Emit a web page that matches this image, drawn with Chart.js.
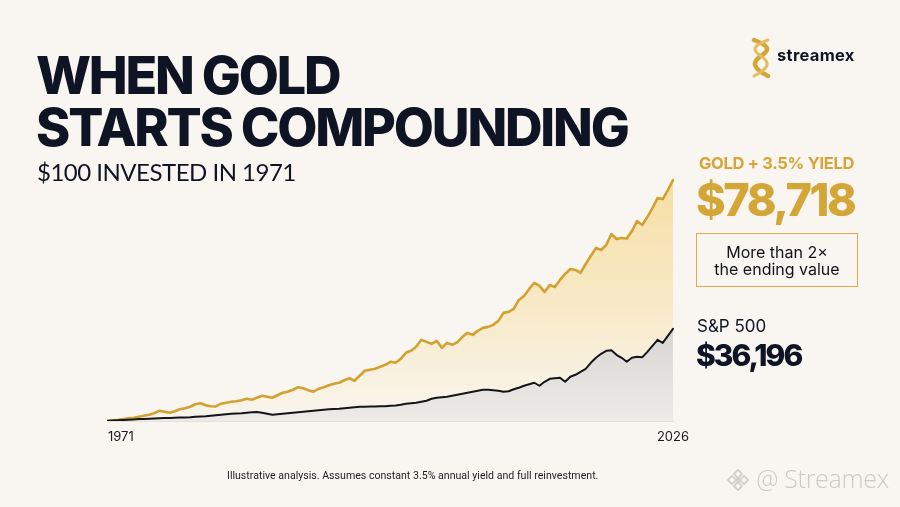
<!DOCTYPE html>
<html>

<head>
    <meta charset="utf-8">
    <title>When Gold Starts Compounding</title>
    <script src="https://cdn.jsdelivr.net/npm/chart.js@4.4.1/dist/chart.umd.min.js"></script>
    <style>
    html,
    body {
        margin: 0;
        padding: 0;
        background: #f9f6f1;
        width: 900px;
        height: 507px;
        overflow: hidden;
        font-family: Inter, "Noto Sans", sans-serif;
        color: #0e1424;
    }

    #wrap {
        position: absolute;
        left: 0;
        top: 0;
        width: 900px;
        height: 507px;
    }

    .t {
        position: absolute;
        white-space: nowrap;
    }

    #title {
        left: 36px;
        top: 50px;
        font-size: 52px;
        line-height: 52px;
        font-weight: 800;
        letter-spacing: -2.2px;
    }

    #sub {
        left: 37px;
        top: 157px;
        font-family: Lato, Inter, sans-serif;
        font-size: 24px;
        font-weight: 400;
        letter-spacing: -0.5px;
    }

    #logo {
        left: 748px;
        top: 37px;
    }

    #logoText {
        left: 777px;
        top: 45px;
        font-size: 16.5px;
        font-weight: 700;
        letter-spacing: 0.3px;
    }

    #goldLbl {
        left: 699px;
        top: 153px;
        font-size: 16.5px;
        font-weight: 700;
        color: #d4a537;
        letter-spacing: -0.3px;
    }

    #goldVal {
        left: 696px;
        top: 172px;
        font-size: 45px;
        font-weight: 800;
        color: #d4a537;
        letter-spacing: -2.4px;
    }

    #box {
        position: absolute;
        left: 696px;
        top: 233px;
        width: 162px;
        height: 54px;
        border: 1.5px solid #d9ad4c;
        text-align: center;
        font-size: 16px;
        line-height: 17px;
        padding-top: 10px;
        box-sizing: border-box;
        color: #10131c;
    }

    #spLbl {
        left: 697px;
        top: 316px;
        font-size: 17px;
        font-weight: 400;
    }

    #spVal {
        left: 696px;
        top: 337px;
        font-size: 30px;
        font-weight: 800;
        letter-spacing: -2px;
    }

    #note {
        left: 227px;
        top: 469px;
        font-family: "Liberation Sans Narrow", Roboto, sans-serif;
        font-size: 10.6px;
        color: #1d1d22;
    }

    #wm {
        left: 726px;
        top: 461px;
        font-family: "Open Sans", "Noto Sans", sans-serif;
        font-weight: 300;
        font-size: 25px;
        color: #cdcbc8;
        letter-spacing: -0.3px;
    }
    </style>
</head>

<body>
    <div id="wrap"><canvas id="chartJSContainer"></canvas></div>

    <div class="t" id="title">WHEN GOLD<br>STARTS COMPOUNDING</div>
    <div class="t" id="sub">$100 INVESTED IN 1971</div>

    <svg class="t" id="logo" width="26" height="42" viewBox="0 0 26 42">
        <path d="M6 3 C 22 9, 22 13, 13 19 C 4 25, 4 31, 20 39" fill="none" stroke="#d4a537" stroke-width="4.5" stroke-linecap="round"/>
        <path d="M20 3 C 4 9, 4 13, 13 19 C 22 25, 22 31, 6 39" fill="none" stroke="#e3bd62" stroke-width="3" stroke-linecap="round"/>
    </svg>
    <div class="t" id="logoText">streamex</div>

    <div class="t" id="goldLbl">GOLD + 3.5% YIELD</div>
    <div class="t" id="goldVal">$78,718</div>
    <div id="box">More than 2×<br>the ending value</div>
    <div class="t" id="spLbl">S&amp;P 500</div>
    <div class="t" id="spVal">$36,196</div>

    <div class="t" id="note">Illustrative analysis. Assumes constant 3.5% annual yield and full reinvestment.</div>
    <div class="t" id="wm"><svg width="24" height="24" viewBox="0 0 24 24" style="vertical-align:-4px">
        <g fill="none" stroke="#cdcbc8" stroke-width="1.6">
            <path d="M12 2 L16 6 L12 10 L8 6 Z"/>
            <path d="M6 8 L10 12 L6 16 L2 12 Z"/>
            <path d="M18 8 L22 12 L18 16 L14 12 Z"/>
            <path d="M12 14 L16 18 L12 22 L8 18 Z"/>
            <path d="M12 10 L14 12 L12 14 L10 12 Z"/>
        </g></svg> @ Streamex</div>

    <script>
    // half-year steps, values (no axis shown, $ scale from the end value)
    var periods = [
        '1971', '1971.5', '1972', '1972.5', '1973', '1973.5', '1974', '1974.5', '1975', '1975.5',
        '1976', '1976.5', '1977', '1977.5', '1978', '1978.5', '1979', '1979.5', '1980', '1980.5',
        '1981', '1981.5', '1982', '1982.5', '1983', '1983.5', '1984', '1984.5', '1985', '1985.5',
        '1986', '1986.5', '1987', '1987.5', '1988', '1988.5', '1989', '1989.5', '1990', '1990.5',
        '1991', '1991.5', '1992', '1992.5', '1993', '1993.5', '1994', '1994.5', '1995', '1995.5',
        '1996', '1996.5', '1997', '1997.5', '1998', '1998.5', '1999', '1999.5', '2000', '2000.5',
        '2001', '2001.5', '2002', '2002.5', '2003', '2003.5', '2004', '2004.5', '2005', '2005.5',
        '2006', '2006.5', '2007', '2007.5', '2008', '2008.5', '2009', '2009.5', '2010', '2010.5',
        '2011', '2011.5', '2012', '2012.5', '2013', '2013.5', '2014', '2014.5', '2015', '2015.5',
        '2016', '2016.5', '2017', '2017.5', '2018', '2018.5', '2019', '2019.5', '2020', '2020.5',
        '2021', '2021.5', '2022', '2022.5', '2023', '2023.5', '2024', '2024.5', '2025', '2025.5',
        '2026'];

    var goldYield = [
        100, 260, 430, 650, 880, 1080, 1400, 1730, 2060, 2550,
        3360, 3040, 2710, 3200, 3850, 4180, 4670, 5480, 5810, 5160,
        4830, 4760, 5650, 5970, 6300, 6460, 6790, 7280, 6950, 7600,
        8260, 7930, 7600, 8420, 9230, 9560, 10210, 11030, 10700, 10050,
        9560, 10540, 11030, 11680, 12170, 12500, 13310, 13960, 13150, 14780,
        16410, 16740, 17060, 17710, 18370, 19350, 19020, 20320, 22280, 22930,
        24240, 26520, 25870, 25220, 26200, 23910, 25540, 24890, 25710, 27500,
        28810, 28150, 29460, 30440, 30760, 31420, 32720, 35330, 35660, 36630,
        39570, 40880, 43160, 45120, 44140, 42180, 44460, 43810, 46090, 48050,
        49680, 49360, 48380, 51310, 53920, 56530, 55880, 57510, 61100, 59470,
        59790, 59630, 62080, 65340, 64040, 66650, 69580, 72840, 72520, 75450,
        78718];

    var sp500 = [
        100, 170, 260, 330, 430, 520, 620, 690, 750, 820,
        880, 950, 1010, 1080, 1110, 1140, 1240, 1400, 1470, 1570,
        1730, 1890, 2060, 2220, 2380, 2450, 2550, 2710, 2870, 2910,
        2710, 2380, 2060, 2220, 2380, 2550, 2710, 2870, 3040, 3200,
        3360, 3530, 3690, 3850, 3920, 4010, 4180, 4340, 4500, 4670,
        4670, 4700, 4730, 4800, 4830, 4990, 5060, 5320, 5650, 5810,
        5970, 6300, 6620, 7280, 7600, 7770, 7930, 8260, 8580, 8910,
        9230, 9560, 9890, 10210, 10210, 10050, 9890, 9560, 9720, 10380,
        10860, 11520, 12010, 12500, 11520, 12820, 13800, 13960, 14130, 12820,
        14450, 15110, 16080, 17060, 19020, 20650, 21960, 22930, 23100, 21630,
        20650, 19350, 20650, 20980, 20810, 22610, 24570, 26520, 25540, 27830,
        30110];

    function goldFill(context) {
        var chart = context.chart;
        var area = chart.chartArea;
        if (!area) return 'rgba(246,220,150,0.4)';
        var g = chart.ctx.createLinearGradient(0, area.top, 0, area.bottom);
        g.addColorStop(0, 'rgba(245,206,110,0.62)');
        g.addColorStop(0.55, 'rgba(247,220,155,0.48)');
        g.addColorStop(1, 'rgba(250,240,220,0.25)');
        return g;
    }

    function spFill(context) {
        var chart = context.chart;
        var area = chart.chartArea;
        if (!area) return '#e3e1dd';
        var top = chart.scales.y.getPixelForValue(Math.max.apply(null, sp500));
        var g = chart.ctx.createLinearGradient(0, top, 0, area.bottom);
        g.addColorStop(0, '#d8d6d2');
        g.addColorStop(1, '#edebe7');
        return g;
    }

    // first year label sits left-aligned on its tick, last one centred: two bottom axes
    var tickFont = { family: 'Inter', size: 13 };

    var options = {
        type: 'line',
        data: {
            labels: periods,
            datasets: [{
                label: 'S&P 500',
                data: sp500,
                order: 1,
                borderColor: '#14151b',
                borderWidth: 2,
                pointRadius: 0,
                tension: 0,
                fill: 'origin',
                backgroundColor: spFill,
                borderCapStyle: 'round',
                borderJoinStyle: 'round'
            }, {
                label: 'Gold + 3.5% yield',
                data: goldYield,
                order: 2,
                borderColor: '#d2a12f',
                borderWidth: 2.6,
                pointRadius: 0,
                tension: 0,
                fill: 'origin',
                backgroundColor: goldFill,
                borderCapStyle: 'round',
                borderJoinStyle: 'round'
            }]
        },
        options: {
            responsive: true,
            maintainAspectRatio: false,
            animation: false,
            layout: {
                padding: { left: 108, right: 227, top: 171, bottom: 62 }
            },
            plugins: {
                legend: { display: false },
                tooltip: { enabled: false }
            },
            scales: {
                y: {
                    display: false,
                    min: 0,
                    max: 81700
                },
                x: {
                    afterFit: function(scale) { scale.height = 24; },
                    grid: { display: false, drawTicks: false },
                    border: { display: true, color: '#e4e1dc', width: 1 },
                    ticks: {
                        autoSkip: false,
                        maxRotation: 0,
                        minRotation: 0,
                        align: 'start',
                        padding: 8,
                        color: '#1a1a1f',
                        font: tickFont,
                        callback: function(v, i) { return i === 0 ? periods[0] : ''; }
                    }
                },
                x2: {
                    type: 'category',
                    position: 'bottom',
                    afterFit: function(scale) { scale.height = 0; },
                    grid: { display: false, drawTicks: false },
                    border: { display: false },
                    ticks: {
                        autoSkip: false,
                        maxRotation: 0,
                        minRotation: 0,
                        align: 'center',
                        mirror: true,
                        padding: 0,
                        color: '#1a1a1f',
                        font: tickFont,
                        callback: function(v, i, all) { return i === all.length - 1 ? periods[periods.length - 1] : ''; }
                    }
                }
            }
        }
    }

    var ctx = document.getElementById('chartJSContainer').getContext('2d');
    window.test = new Chart(ctx, options);
    </script>
</body>

</html>
